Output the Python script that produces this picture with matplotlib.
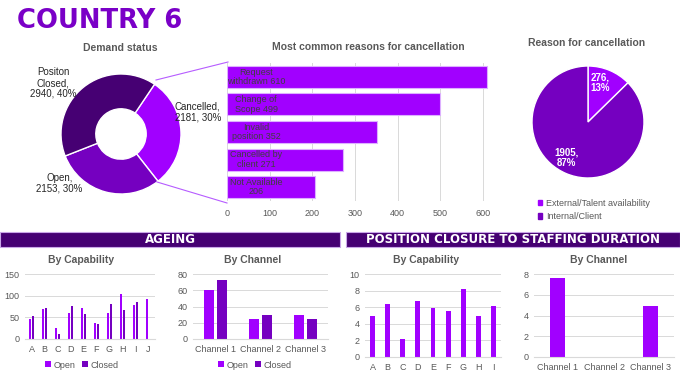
import textwrap

import matplotlib

matplotlib.use("Agg")
import matplotlib.pyplot as plt
import numpy as np
from matplotlib.lines import Line2D
from matplotlib.patches import Patch, Rectangle

plt.rcParams["font.family"] = ["Liberation Sans", "DejaVu Sans"]

W, H = 680, 375

BRIGHT = "#A100FF"
MID = "#7500C0"
DARK = "#460073"
GRAY = "#595959"
GRID = "#D9D9D9"

# --- data ---
demand_labels = ["Cancelled", "Open", "Positon\nClosed"]
demand_values = [2181, 2153, 2940]

reason_labels = ["Request withdrawn", "Change of Scope", "Invalid position",
                 "Cancelled by client", "Not Available"]
reason_values = [610, 499, 352, 271, 206]

cancel_type_labels = ["External/Talent availability", "Internal/Client"]
cancel_type_values = [276, 1905]

capabilities = list("ABCDEFGHIJ")
ageing_cap_open = [46, 69, 25, 60, 72, 36, 60, 103, 78, 92]
ageing_cap_closed = [54, 71, 12, 76, 57, 35, 81, 67, 85, 0]

channels = ["Channel 1", "Channel 2", "Channel 3"]
ageing_ch_open = [60, 25, 29]
ageing_ch_closed = [73, 30, 25]

closure_caps = list("ABCDEFGHI")
closure_cap_values = [5.0, 6.4, 2.2, 6.8, 5.9, 5.6, 8.2, 4.9, 6.1]
closure_ch_values = [7.6, 0, 4.9]


fig = plt.figure(figsize=(W / 100, H / 100), dpi=100, facecolor="white")


def px_axes(l, t, r, b):
    return fig.add_axes([l / W, 1 - b / H, (r - l) / W, (b - t) / H])


def fx(x):
    return x / W


def fy(y):
    return 1 - y / H


def style_cols(ax, ylim, yticks):
    ax.set_ylim(*ylim)
    ax.set_yticks(yticks)
    ax.grid(axis="y", color=GRID, lw=0.7)
    ax.set_axisbelow(True)
    for s in ("top", "right", "left"):
        ax.spines[s].set_visible(False)
    ax.spines["bottom"].set_color(GRID)
    ax.tick_params(length=0, labelsize=6.5, labelcolor=GRAY, pad=4)


# title
fig.text(fx(17), fy(21), "COUNTRY 6", fontsize=18.6, fontweight="bold",
         family="DejaVu Sans", color="#7A00C7", va="center", ha="left")

# --- demand status donut ---
ax = px_axes(61, 74, 181, 194)
ax.pie(demand_values, colors=[BRIGHT, MID, DARK], startangle=56, counterclock=False,
       wedgeprops=dict(width=0.58, edgecolor="white", linewidth=1))
ax.set_xlim(-1, 1)
ax.set_ylim(-1, 1)
total = sum(demand_values)
label_pos = [(1.28, 0.37), (-1.03, -0.82), (-1.13, 0.85)]
for lab, v, (x, y) in zip(demand_labels, demand_values, label_pos):
    ax.text(x, y, f"{lab},\n{v}, {round(100 * v / total)}%", ha="center", va="center",
            fontsize=7, color="#262626", linespacing=1.1, clip_on=False)
fig.text(fx(120), fy(48), "Demand status", ha="center", va="center",
         fontsize=7.5, fontweight="bold", color=GRAY)

# connector lines from the cancelled slice to the bar chart
fig.add_artist(Line2D([fx(156), fx(228)], [fy(80), fy(62)], color="#B65CFF", lw=0.8))
fig.add_artist(Line2D([fx(157), fx(227)], [fy(182), fy(203)], color="#B65CFF", lw=0.8))

# --- reasons bar chart ---
ax = px_axes(227, 63, 489, 201)
y = np.arange(len(reason_values))
ax.barh(y, reason_values, height=0.8, color=BRIGHT, edgecolor="#DDB0FF", lw=0.8)
ax.set_ylim(len(reason_values) - 0.5, -0.5)
ax.set_xlim(0, 614)
ax.set_xticks(range(0, 700, 100))
ax.set_yticks([])
ax.grid(axis="x", color=GRID, lw=0.7)
ax.set_axisbelow(True)
for s in ax.spines.values():
    s.set_visible(False)
ax.tick_params(length=0, labelsize=6.5, labelcolor=GRAY, pad=6)
for yi, lab, v in zip(y, reason_labels, reason_values):
    ax.text(68, yi, textwrap.fill(f"{lab} {v}", 13), ha="center", va="center",
            fontsize=6.5, color="#3F3F3F", linespacing=1.05)
fig.text(fx(368), fy(47), "Most common reasons for cancellation", ha="center",
         va="center", fontsize=7.5, fontweight="bold", color=GRAY)

# --- reason for cancellation pie ---
ax = px_axes(532, 66, 644, 178)
ax.pie(cancel_type_values, colors=[BRIGHT, MID], startangle=90, counterclock=False,
       wedgeprops=dict(edgecolor="white", linewidth=1))
ax.set_xlim(-1, 1)
ax.set_ylim(-1, 1)
ctot = sum(cancel_type_values)
for v, (x, yy) in zip(cancel_type_values, [(0.21, 0.70), (-0.39, -0.64)]):
    ax.text(x, yy, f"{v},\n{round(100 * v / ctot)}%", ha="center", va="center",
            fontsize=7, fontweight="bold", color="white", linespacing=1.1)
fig.text(fx(587), fy(43), "Reason for cancellation", ha="center", va="center",
         fontsize=7.5, fontweight="bold", color=GRAY)
fig.legend([Patch(color=BRIGHT), Patch(color=MID)], cancel_type_labels,
           loc="center left", bbox_to_anchor=(fx(533), fy(210)), frameon=False,
           fontsize=6.5, labelcolor=GRAY, handlelength=0.5, handleheight=0.5,
           handletextpad=0.4, labelspacing=0.5, borderpad=0)

# --- section headers ---
for l, r, txt in ((0, 340, "AGEING"), (346, 680, "POSITION CLOSURE TO STAFFING DURATION")):
    fig.add_artist(Rectangle((fx(l), fy(247)), (r - l) / W, 15 / H, transform=fig.transFigure,
                             facecolor=DARK, edgecolor="#C9A6E8", lw=0.8))
    fig.text(fx((l + r) / 2), fy(239.5), txt, ha="center", va="center", fontsize=8.5,
             fontweight="bold", family="DejaVu Sans", color="white")

# --- ageing by capability ---
ax = px_axes(25, 274, 155, 339)
x = np.arange(len(capabilities))
ax.bar(x - 0.13, ageing_cap_open, width=0.2, color=BRIGHT, label="Open")
ax.bar(x + 0.13, ageing_cap_closed, width=0.2, color=MID, label="Closed")
ax.set_xticks(x, capabilities)
ax.set_xlim(-0.5, len(capabilities) - 0.5)
style_cols(ax, (0, 150), [0, 50, 100, 150])
fig.text(fx(81), fy(260), "By Capability", ha="center", va="center",
         fontsize=7.5, fontweight="bold", color=GRAY)
fig.legend(*ax.get_legend_handles_labels(), loc="center", bbox_to_anchor=(fx(82), fy(365)),
           ncol=2, frameon=False, fontsize=6.5, labelcolor=GRAY, handlelength=0.6,
           handleheight=0.6, handletextpad=0.3, columnspacing=0.8, borderpad=0)

# --- ageing by channel ---
ax = px_axes(193, 274, 328, 339)
x = np.arange(len(channels))
ax.bar(x - 0.14, ageing_ch_open, width=0.22, color=BRIGHT, label="Open")
ax.bar(x + 0.14, ageing_ch_closed, width=0.22, color=MID, label="Closed")
ax.set_xticks(x, channels)
ax.set_xlim(-0.5, len(channels) - 0.5)
style_cols(ax, (0, 80), range(0, 81, 20))
fig.text(fx(253), fy(260), "By Channel", ha="center", va="center",
         fontsize=7.5, fontweight="bold", color=GRAY)
fig.legend(*ax.get_legend_handles_labels(), loc="center", bbox_to_anchor=(fx(255), fy(365)),
           ncol=2, frameon=False, fontsize=6.5, labelcolor=GRAY, handlelength=0.6,
           handleheight=0.6, handletextpad=0.3, columnspacing=0.8, borderpad=0)

# --- closure by capability ---
ax = px_axes(365, 274, 501, 357)
x = np.arange(len(closure_caps))
ax.bar(x, closure_cap_values, width=0.33, color=BRIGHT)
ax.set_xticks(x, closure_caps)
ax.set_xlim(-0.5, len(closure_caps) - 0.5)
style_cols(ax, (0, 10), range(0, 11, 2))
fig.text(fx(426), fy(260), "By Capability", ha="center", va="center",
         fontsize=7.5, fontweight="bold", color=GRAY)

# --- closure by channel ---
ax = px_axes(534, 274, 674, 357)
x = np.arange(len(channels))
ax.bar(x, closure_ch_values, width=0.32, color=BRIGHT)
ax.set_xticks(x, channels)
ax.set_xlim(-0.5, len(channels) - 0.5)
style_cols(ax, (0, 8), range(0, 9, 2))
fig.text(fx(599), fy(260), "By Channel", ha="center", va="center",
         fontsize=7.5, fontweight="bold", color=GRAY)

fig.savefig("out.png", dpi=100, facecolor="white")
